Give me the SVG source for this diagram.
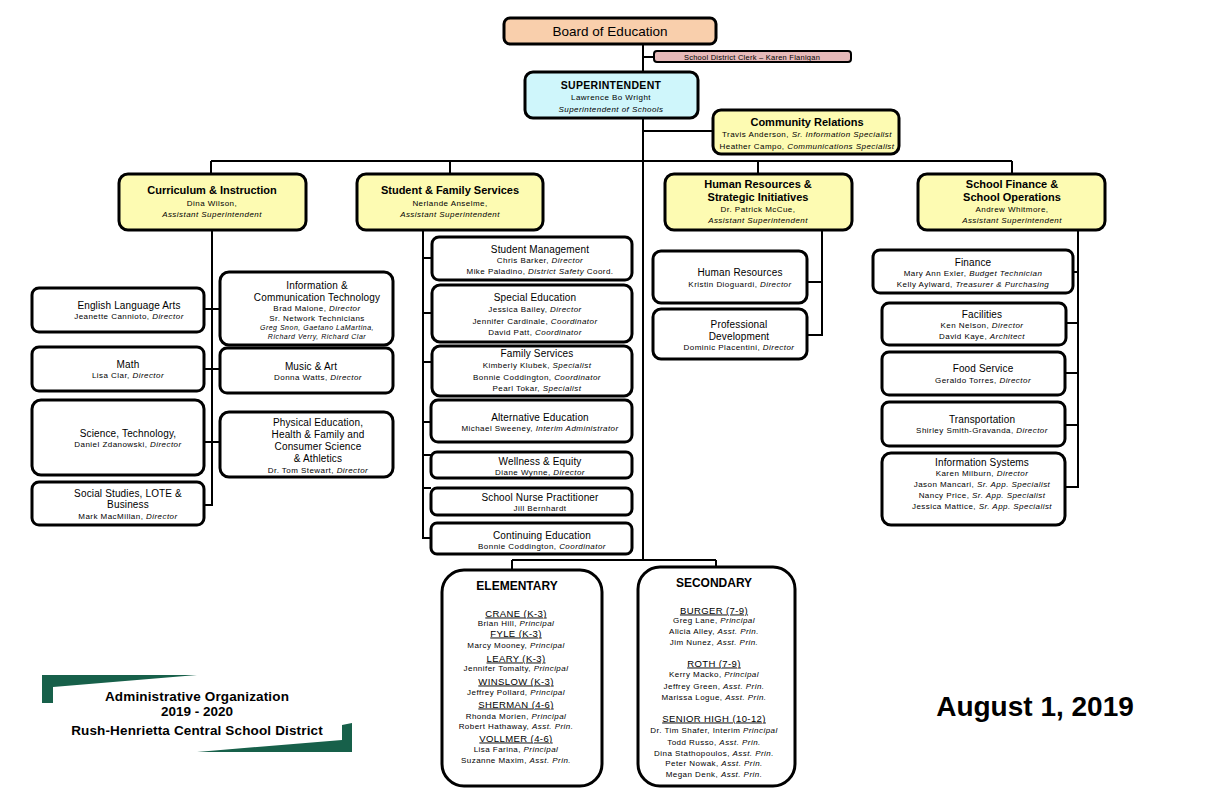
<svg xmlns="http://www.w3.org/2000/svg" width="1224" height="792" viewBox="0 0 1224 792">
<style>
text{font-family:"Liberation Sans",Arial,sans-serif;fill:#000;text-anchor:middle}
.b{stroke:#000;stroke-width:3;fill:#fff}
.y{fill:#fdfbb2}
.h{font-size:11px;font-weight:bold}
.t{font-size:10px;letter-spacing:0.15px}
.n{font-size:8px;letter-spacing:0.45px}
.s{font-size:7px;font-style:italic;letter-spacing:0.5px}
.u{font-size:9.5px;text-decoration:underline;letter-spacing:0.4px}
.i{font-style:italic}
.c{stroke:#000;stroke-width:2;fill:none}
</style>
<rect width="1224" height="792" fill="#fff"/>
<g id="connectors">
<path class="c" d="M643 44V560M643 57H654M643 131H713M211 161H1012M211 161V174M450 161V174M758 161V174M1012 161V174"/>
<path class="c" d="M212 230V505H204M204 309H220M204 369H220M204 442H220"/>
<path class="c" d="M423 230V538H431M423 258H432M423 313H432M423 362H432M423 422H431M423 455H431M423 488H431"/>
<path class="c" d="M822 230V335H807M807 282H822"/>
<path class="c" d="M1078 230V487H1065M1073 272H1078M1066 323H1078M1065 373H1078M1065 425H1078"/>
<path class="c" d="M512 560H716M512 560V570M716 560V567"/>
</g>
<g id="board"><rect class="b" x="504" y="18" width="212" height="26" rx="6" style="fill:#f9cfac"/><text x="610" y="36" style="font-size:13.5px">Board of Education</text></g>
<g id="clerk"><rect x="654" y="51" width="197" height="11" rx="3" fill="#e6b9b9" stroke="#000" stroke-width="2"/><text x="752" y="59.5" style="font-size:7.5px;letter-spacing:0.25px">School District Clerk – Karen Flanigan</text></g>
<g id="superintendent"><rect class="b" x="525" y="72" width="173" height="46" rx="8" style="fill:#cff6fb"/><text x="611" y="88.5" style="font-size:10.5px;font-weight:bold;letter-spacing:0.3px">SUPERINTENDENT</text><text class="n" x="611" y="100">Lawrence Bo Wright</text><text class="n i" x="611" y="112">Superintendent of Schools</text></g>
<g id="community"><rect class="b y" x="713" y="110" width="186" height="44" rx="8"/><text class="h" x="807" y="125.5">Community Relations</text><text class="n" x="807" y="137">Travis Anderson, <tspan class="i">Sr. Information Specialist</tspan></text><text class="n" x="807" y="149">Heather Campo, <tspan class="i">Communications Specialist</tspan></text></g>
<g id="curriculum"><rect class="b y" x="119" y="174" width="187" height="56" rx="9"/><text class="h" x="212" y="194">Curriculum &amp; Instruction</text><text class="n" x="212" y="206">Dina Wilson,</text><text class="n i" x="212" y="217">Assistant Superintendent</text></g>
<g id="student-family"><rect class="b y" x="357" y="174" width="186" height="56" rx="9"/><text class="h" x="450" y="194">Student &amp; Family Services</text><text class="n" x="450" y="206">Nerlande Anselme,</text><text class="n i" x="450" y="217">Assistant Superintendent</text></g>
<g id="hr-strategic"><rect class="b y" x="665" y="174" width="187" height="56" rx="9"/><text class="h" x="758" y="187.5">Human Resources &amp;</text><text class="h" x="758" y="200.5">Strategic Initiatives</text><text class="n" x="758" y="212">Dr. Patrick McCue,</text><text class="n i" x="758" y="223">Assistant Superintendent</text></g>
<g id="finance-ops"><rect class="b y" x="918" y="174" width="187" height="56" rx="9"/><text class="h" x="1012" y="187.5">School Finance &amp;</text><text class="h" x="1012" y="200.5">School Operations</text><text class="n" x="1012" y="212">Andrew Whitmore,</text><text class="n i" x="1012" y="223">Assistant Superintendent</text></g>
<g id="ela"><rect class="b" x="32" y="288" width="172" height="44" rx="7"/><text class="t" x="129" y="308.5">English Language Arts</text><text class="n" x="129" y="319">Jeanette Cannioto, <tspan class="i">Director</tspan></text></g>
<g id="math"><rect class="b" x="32" y="347" width="172" height="44" rx="7"/><text class="t" x="128" y="367.5">Math</text><text class="n" x="128" y="378">Lisa Clar, <tspan class="i">Director</tspan></text></g>
<g id="science"><rect class="b" x="32" y="400" width="172" height="75" rx="9"/><text class="t" x="128" y="436.5">Science, Technology,</text><text class="n" x="128" y="447">Daniel Zdanowski, <tspan class="i">Director</tspan></text></g>
<g id="social"><rect class="b" x="32" y="482" width="172" height="43" rx="7"/><text class="t" x="128" y="496.5">Social Studies, LOTE &amp;</text><text class="t" x="128" y="508">Business</text><text class="n" x="128" y="519">Mark MacMillan, <tspan class="i">Director</tspan></text></g>
<g id="ict"><rect class="b" x="220" y="272" width="173" height="73" rx="9"/><text class="t" x="317" y="288.5">Information &amp;</text><text class="t" x="317" y="300.5">Communication Technology</text><text class="n" x="317" y="311">Brad Malone, <tspan class="i">Director</tspan></text><text class="n" x="317" y="321">Sr. Network Technicians</text><text class="s" x="317" y="330">Greg Snon, Gaetano LaMartina,</text><text class="s" x="317" y="339">Richard Verry, Richard Clar</text></g>
<g id="music"><rect class="b" x="220" y="348" width="173" height="45" rx="7"/><text class="t" x="311" y="369.5">Music &amp; Art</text><text class="n" x="318" y="380">Donna Watts, <tspan class="i">Director</tspan></text></g>
<g id="pe"><rect class="b" x="220" y="412" width="173" height="65" rx="9"/><text class="t" x="318" y="425.5">Physical Education,</text><text class="t" x="318" y="437.5">Health &amp; Family and</text><text class="t" x="318" y="449.5">Consumer Science</text><text class="t" x="318" y="461.5">&amp; Athletics</text><text class="n" x="318" y="473">Dr. Tom Stewart, <tspan class="i">Director</tspan></text></g>
<g id="student-mgmt"><rect class="b" x="432" y="237" width="200" height="43" rx="7"/><text class="t" x="540" y="252.5">Student Management</text><text class="n" x="540" y="263">Chris Barker, <tspan class="i">Director</tspan></text><text class="n" x="540" y="274">Mike Paladino, <tspan class="i">District Safety</tspan> Coord.</text></g>
<g id="special-ed"><rect class="b" x="432" y="285" width="200" height="57" rx="8"/><text class="t" x="535" y="300.5">Special Education</text><text class="n" x="535" y="312">Jessica Bailey, <tspan class="i">Director</tspan></text><text class="n" x="535" y="324">Jennifer Cardinale, <tspan class="i">Coordinator</tspan></text><text class="n" x="535" y="335">David Patt, <tspan class="i">Coordinator</tspan></text></g>
<g id="family-services"><rect class="b" x="432" y="346" width="200" height="50" rx="8"/><text class="t" x="537" y="356.5">Family Services</text><text class="n" x="537" y="368">Kimberly Klubek, <tspan class="i">Specialist</tspan></text><text class="n" x="537" y="380">Bonnie Coddington, <tspan class="i">Coordinator</tspan></text><text class="n" x="537" y="391">Pearl Tokar, <tspan class="i">Specialist</tspan></text></g>
<g id="alt-ed"><rect class="b" x="431" y="400" width="201" height="42" rx="7"/><text class="t" x="540" y="420.5">Alternative Education</text><text class="n" x="540" y="431">Michael Sweeney, <tspan class="i">Interim Administrator</tspan></text></g>
<g id="wellness"><rect class="b" x="431" y="452" width="201" height="26" rx="6"/><text class="t" x="540" y="464.5">Wellness &amp; Equity</text><text class="n" x="540" y="475">Diane Wynne, <tspan class="i">Director</tspan></text></g>
<g id="nurse"><rect class="b" x="431" y="488" width="201" height="27" rx="6"/><text class="t" x="540" y="500.5">School Nurse Practitioner</text><text class="n" x="540" y="511">Jill Bernhardt</text></g>
<g id="continuing"><rect class="b" x="431" y="523" width="201" height="31" rx="6"/><text class="t" x="542" y="538.5">Continuing Education</text><text class="n" x="542" y="549">Bonnie Coddington, <tspan class="i">Coordinator</tspan></text></g>
<g id="hr"><rect class="b" x="653" y="251" width="154" height="52" rx="8"/><text class="t" x="740" y="275.5">Human Resources</text><text class="n" x="740" y="287">Kristin Dioguardi, <tspan class="i">Director</tspan></text></g>
<g id="pd"><rect class="b" x="653" y="309" width="154" height="50" rx="8"/><text class="t" x="739" y="327.5">Professional</text><text class="t" x="739" y="339.5">Development</text><text class="n" x="739" y="350">Dominic Placentini, <tspan class="i">Director</tspan></text></g>
<g id="finance"><rect class="b" x="873" y="250" width="200" height="43" rx="7"/><text class="t" x="973" y="265.5">Finance</text><text class="n" x="973" y="276">Mary Ann Exler, <tspan class="i">Budget Technician</tspan></text><text class="n" x="973" y="287">Kelly Aylward, <tspan class="i">Treasurer &amp; Purchasing</tspan></text></g>
<g id="facilities"><rect class="b" x="882" y="303" width="184" height="42" rx="7"/><text class="t" x="982" y="317.5">Facilities</text><text class="n" x="982" y="328">Ken Nelson, <tspan class="i">Director</tspan></text><text class="n" x="982" y="339">David Kaye, <tspan class="i">Architect</tspan></text></g>
<g id="food"><rect class="b" x="882" y="352" width="183" height="43" rx="7"/><text class="t" x="983" y="371.5">Food Service</text><text class="n" x="983" y="383">Geraldo Torres, <tspan class="i">Director</tspan></text></g>
<g id="transportation"><rect class="b" x="882" y="402" width="183" height="44" rx="7"/><text class="t" x="982" y="422.5">Transportation</text><text class="n" x="982" y="433">Shirley Smith-Gravanda, <tspan class="i">Director</tspan></text></g>
<g id="info-systems"><rect class="b" x="882" y="453" width="183" height="72" rx="9"/><text class="t" x="982" y="465.5">Information Systems</text><text class="n" x="982" y="476">Karen Milburn, <tspan class="i">Director</tspan></text><text class="n" x="982" y="487">Jason Mancari, <tspan class="i">Sr. App. Specialist</tspan></text><text class="n" x="982" y="498">Nancy Price, <tspan class="i">Sr. App. Specialist</tspan></text><text class="n" x="982" y="509">Jessica Mattice, <tspan class="i">Sr. App. Specialist</tspan></text></g>
<g id="elementary"><rect class="b" x="442" y="570" width="160" height="216" rx="22"/><text x="517" y="590" style="font-size:12px;font-weight:bold">ELEMENTARY</text>
<text class="u" x="516" y="616.5">CRANE (K-3)</text><text class="n" x="516" y="626">Brian Hill, <tspan class="i">Principal</tspan></text>
<text class="u" x="516" y="636.5">FYLE (K-3)</text><text class="n" x="516" y="648">Marcy Mooney, <tspan class="i">Principal</tspan></text>
<text class="u" x="516" y="661.5">LEARY (K-3)</text><text class="n" x="516" y="671">Jennifer Tomalty, <tspan class="i">Principal</tspan></text>
<text class="u" x="516" y="684.5">WINSLOW (K-3)</text><text class="n" x="516" y="695">Jeffrey Pollard, <tspan class="i">Principal</tspan></text>
<text class="u" x="516" y="707.5">SHERMAN (4-6)</text><text class="n" x="516" y="719">Rhonda Morien, <tspan class="i">Principal</tspan></text><text class="n" x="516" y="729">Robert Hathaway, <tspan class="i">Asst. Prin.</tspan></text>
<text class="u" x="516" y="741.5">VOLLMER (4-6)</text><text class="n" x="516" y="752">Lisa Farina, <tspan class="i">Principal</tspan></text><text class="n" x="516" y="763">Suzanne Maxim, <tspan class="i">Asst. Prin.</tspan></text></g>
<g id="secondary"><rect class="b" x="638" y="567" width="157" height="219" rx="22"/><text x="714" y="587" style="font-size:12px;font-weight:bold">SECONDARY</text>
<text class="u" x="714" y="613.5">BURGER (7-9)</text><text class="n" x="714" y="623">Greg Lane, <tspan class="i">Principal</tspan></text><text class="n" x="714" y="634">Alicia Alley, <tspan class="i">Asst. Prin.</tspan></text><text class="n" x="714" y="645">Jim Nunez, <tspan class="i">Asst. Prin.</tspan></text>
<text class="u" x="714" y="666.5">ROTH (7-9)</text><text class="n" x="714" y="677">Kerry Macko, <tspan class="i">Principal</tspan></text><text class="n" x="714" y="689">Jeffrey Green, <tspan class="i">Asst. Prin.</tspan></text><text class="n" x="714" y="700">Marissa Logue, <tspan class="i">Asst. Prin.</tspan></text>
<text class="u" x="714" y="721.5">SENIOR HIGH (10-12)</text><text class="n" x="714" y="733">Dr. Tim Shafer, Interim <tspan class="i">Principal</tspan></text><text class="n" x="714" y="745">Todd Russo, <tspan class="i">Asst. Prin.</tspan></text><text class="n" x="714" y="756">Dina Stathopoulos, <tspan class="i">Asst. Prin.</tspan></text><text class="n" x="714" y="766">Peter Nowak, <tspan class="i">Asst. Prin.</tspan></text><text class="n" x="714" y="777">Megan Denk, <tspan class="i">Asst. Prin.</tspan></text></g>
<g id="title-logo"><polygon points="42,675 197,675 53,687 53,703 42,703" fill="#17604a"/><polygon points="197,752 352,752 352,723 342,725 342,740" fill="#17604a"/>
<text x="197" y="701" style="font-size:13.5px;font-weight:bold;letter-spacing:0.15px">Administrative Organization</text><text x="197" y="716" style="font-size:13.5px;font-weight:bold">2019 - 2020</text><text x="197" y="735" style="font-size:13.5px;font-weight:bold;letter-spacing:0.15px">Rush-Henrietta Central School District</text></g>
<g id="date"><text x="1035" y="716" style="font-size:28px;font-weight:bold">August 1, 2019</text></g>
</svg>
